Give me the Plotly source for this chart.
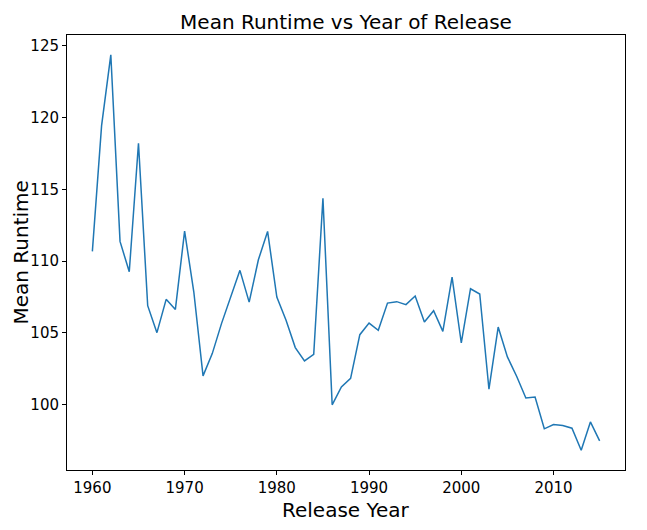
import plotly.graph_objects as go

years = list(range(1960, 2016))
mean_runtime = [
    110.67, 119.43, 124.37, 111.37, 109.25, 118.21, 106.89, 105.01, 107.33, 106.63,
    112.08, 107.84, 102.00, 103.55, 105.64, 107.49, 109.35, 107.14, 110.09, 112.06,
    107.49, 105.87, 103.97, 103.04, 103.50, 114.38, 99.98, 101.23, 101.83, 104.87,
    105.68, 105.17, 107.07, 107.17, 106.96, 107.56, 105.75, 106.54, 105.10, 108.88,
    104.29, 108.07, 107.70, 101.07, 105.40, 103.32, 101.97, 100.46, 100.53, 98.31,
    98.61, 98.54, 98.35, 96.82, 98.79, 97.47,
]
x_ticks = [1960, 1970, 1980, 1990, 2000, 2010]
y_ticks = [100, 105, 110, 115, 120, 125]

fig = go.Figure(go.Scatter(x=years, y=mean_runtime, mode="lines",
                           line=dict(color="#1f77b4", width=1.5)))

font = "DejaVu Sans, sans-serif"
axis_common = dict(showline=True, linecolor="black", linewidth=1, mirror=True,
                   ticks="outside", ticklen=4, tickwidth=1, tickcolor="black",
                   showgrid=False, zeroline=False, automargin=False,
                   tickfont=dict(family=font, size=15, color="black"))

label_font = dict(family=font, size=20, color="black")

fig.update_layout(
    width=647, height=530,
    margin=dict(l=59, r=30, t=27, b=68, autoexpand=False),
    paper_bgcolor="white", plot_bgcolor="white",
    showlegend=False,
    title=dict(text="Mean Runtime vs Year of Release", xref="paper", x=0.5, xanchor="center",
               y=1 - 14 / 530, yanchor="middle", font=label_font),
    xaxis=dict(range=[1957.25, 2017.75], tickvals=x_ticks, **axis_common),
    yaxis=dict(range=[95.44, 125.75], tickvals=y_ticks, **axis_common),
    annotations=[
        dict(text="Release Year", xref="paper", yref="paper", x=0.5, y=-40 / 435,
             xanchor="center", yanchor="middle", showarrow=False, font=label_font),
        dict(text="Mean Runtime", xref="paper", yref="paper", x=-47 / 558, y=0.5,
             xanchor="center", yanchor="middle", textangle=-90, showarrow=False,
             font=label_font),
    ],
)

fig.write_html("out.html")
